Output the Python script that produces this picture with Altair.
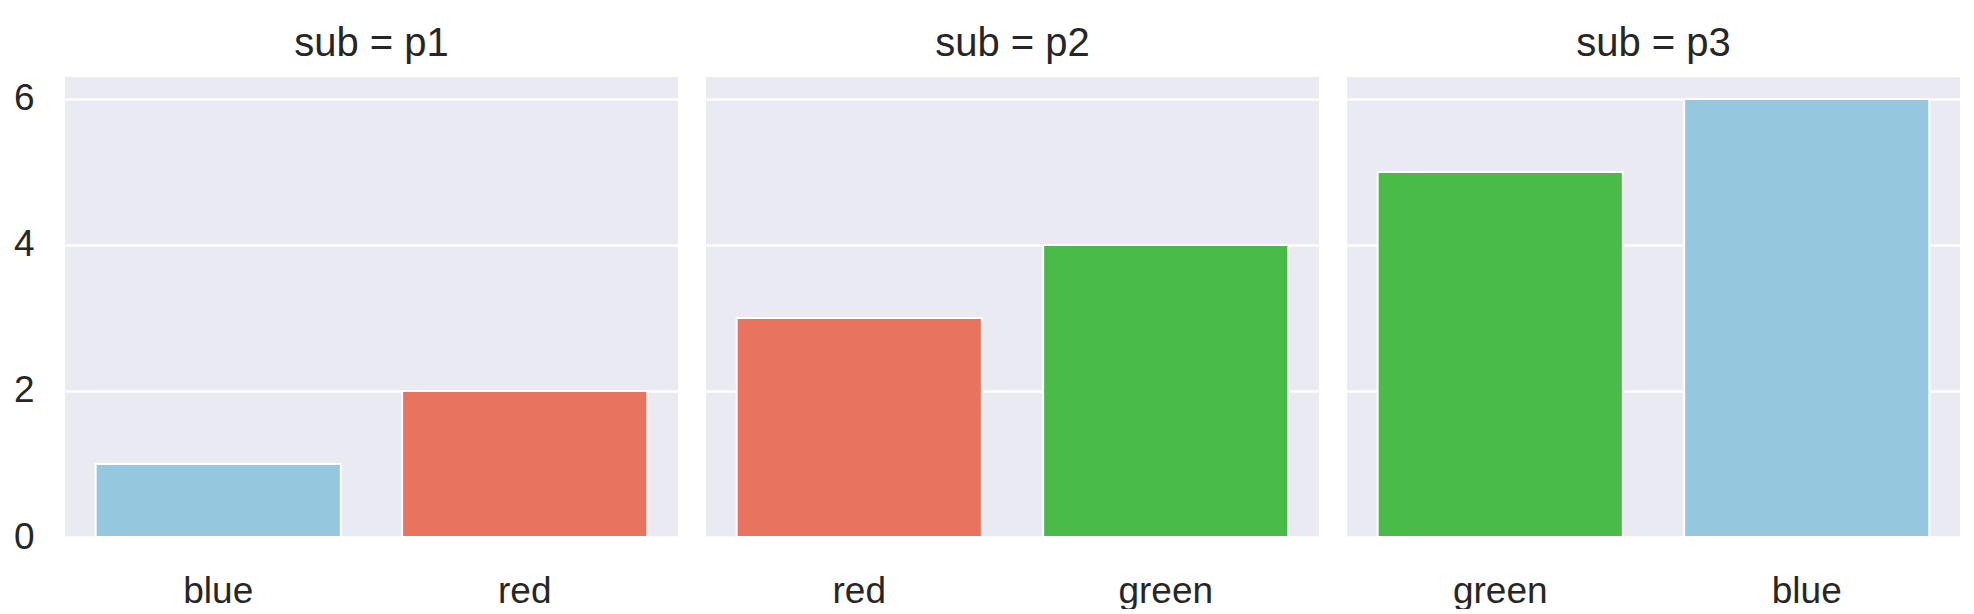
import altair as alt
import pandas as pd

# bar data, one row per bar (panel order kept as drawn)
subs = ['p1', 'p1', 'p2', 'p2', 'p3', 'p3']
names = ['blue', 'red', 'red', 'green', 'green', 'blue']
values = [1, 2, 3, 4, 5, 6]

color_names = ['blue', 'red', 'green']
color_values = ['#95C8DE', '#E8735F', '#48BB48']

df = pd.DataFrame({'sub': subs, 'name': names, 'value': values, 'order': list(range(len(values)))})

font = 'Liberation Sans'
text_color = '#262626'

chart = alt.Chart(df).mark_bar(stroke='white', strokeWidth=2).encode(
    x=alt.X('name:N', title=None,
            sort=alt.EncodingSortField(field='order', op='min'),
            scale=alt.Scale(paddingInner=0.2, paddingOuter=0.1),
            axis=alt.Axis(labelAngle=0, grid=False, domain=False, ticks=False, tickSize=0,
                          labelPadding=65, labelBaseline='alphabetic')),
    y=alt.Y('value:Q', title=None,
            scale=alt.Scale(domain=[0, 6.3], nice=False),
            axis=alt.Axis(values=[0, 2, 4, 6], grid=True, gridColor='white', gridWidth=2.7,
                          domain=False, ticks=False, tickSize=0, labelPadding=31)),
    color=alt.Color('name:N', scale=alt.Scale(domain=color_names, range=color_values), legend=None),
).properties(
    width=613,
    height=460
).facet(
    column=alt.Column('sub:N', title=None,
                      header=alt.Header(labelExpr="'sub = ' + datum.value", labelFont=font,
                                        labelFontSize=40, labelColor=text_color,
                                        labelBaseline='alphabetic', labelPadding=-19)),
).resolve_scale(
    x='independent'
).configure_facet(
    spacing=28
).configure_axis(
    labelFont=font,
    labelFontSize=37,
    labelColor=text_color
).configure_view(
    fill='#EAEAF2',
    strokeWidth=0
).properties(
    padding={'left': 5, 'top': 16, 'right': 5, 'bottom': 0}
)

chart.save("out.html", embed_options={"renderer": "svg", "actions": False})
